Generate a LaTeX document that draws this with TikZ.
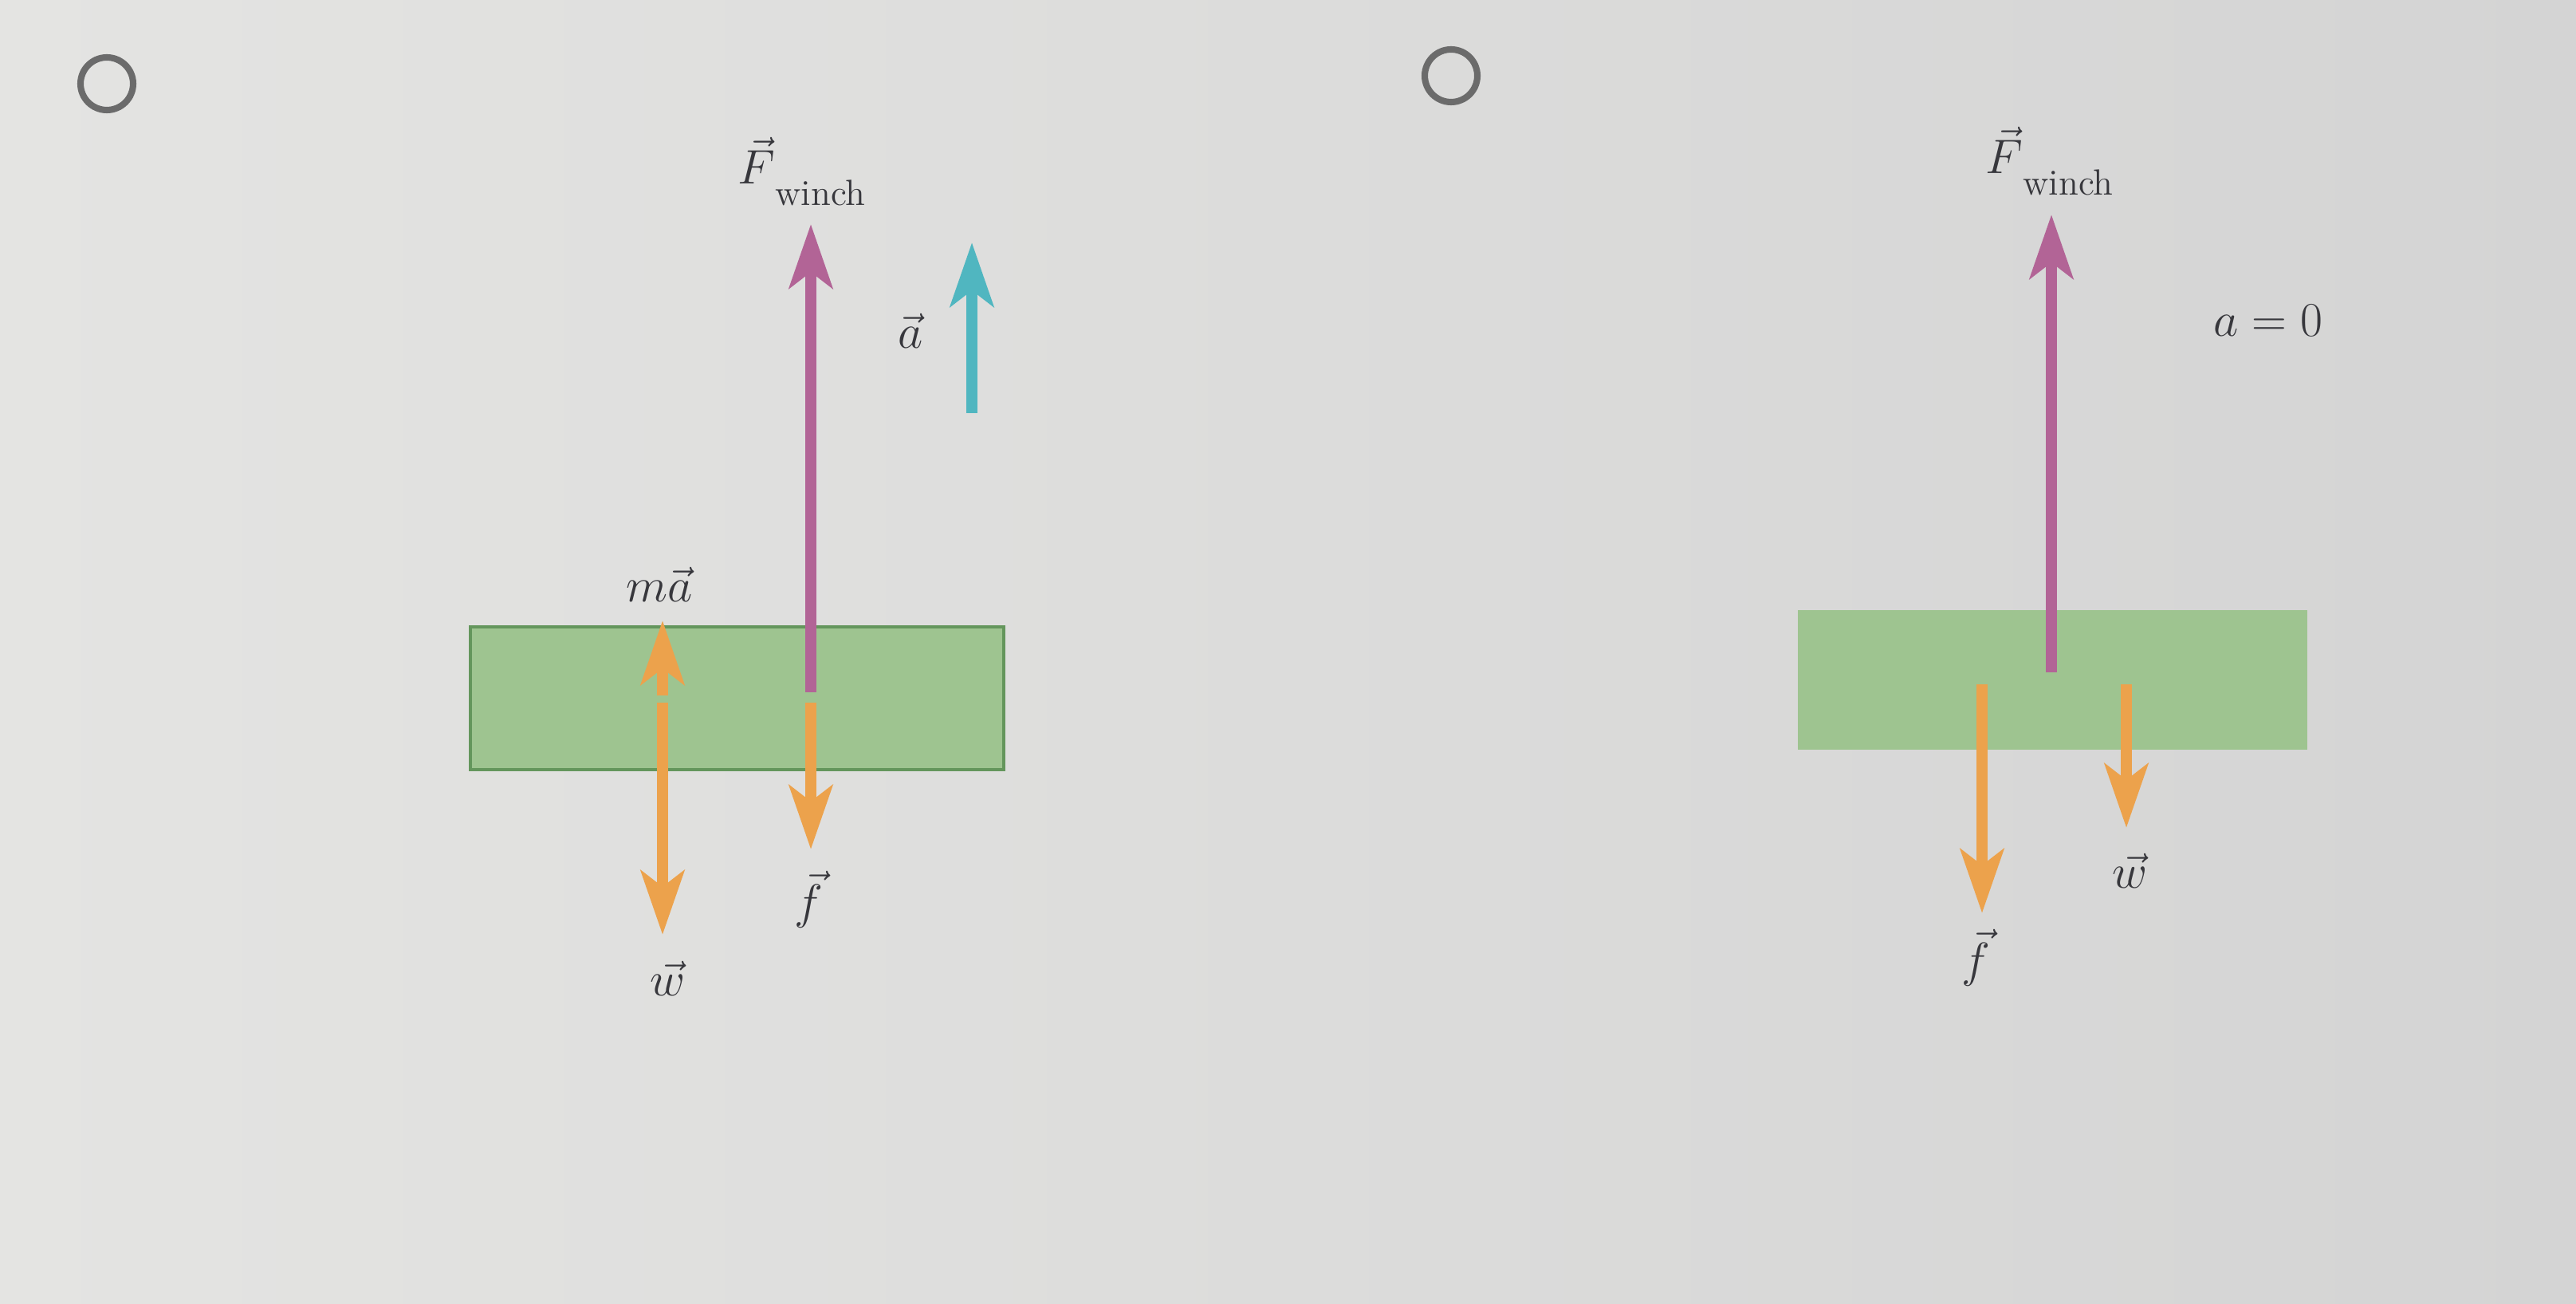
\documentclass[tikz,border=0pt]{standalone}
\usepackage{amsmath, amssymb}
\usetikzlibrary {arrows.meta}

\definecolor{paper}{RGB}{238,238,236}
\definecolor{paperl}{RGB}{228,228,226}
\definecolor{paperr}{RGB}{212,212,212}
\definecolor{winchpink}{RGB}{178,100,150}
\definecolor{forceorange}{RGB}{236,162,76}
\definecolor{accteal}{RGB}{80,182,192}
\definecolor{blockgreen}{RGB}{158,196,144}
\definecolor{blockedge}{RGB}{100,150,92}
\definecolor{ink}{RGB}{55,55,60}

\begin{document}
\begin{tikzpicture}[>=Stealth, x=1cm, y=-1cm,
        force/.style={line width=4.2pt, -{Stealth[length=8mm, width=5.4mm, inset=2mm]}},
        lbl/.style={font=\fontsize{17}{20}\selectfont, text=ink, inner sep=0pt},
        radio/.style={circle, draw=black!58, line width=2.3pt, minimum size=0.66cm, inner sep=0pt},
        block/.style={fill=blockgreen, draw=blockedge, line width=1pt}]
    \useasboundingbox (0,0) rectangle (32.31,16.35);
    \shade[left color=paperl, middle color=paper, right color=paperr] (0,0) rectangle (32.31,16.35);

    % choice buttons
    \node[radio] (opt1) at (1.34, 1.05) {};
    \node[radio] (opt2) at (18.20, 0.95) {};

    % left choice
    \draw[block] (5.90, 7.86) rectangle (12.59, 9.65);
    \coordinate (wL0) at (10.17, 8.68);
    \coordinate (wL1) at (10.17, 2.81);
    \coordinate (fL0) at (10.17, 8.81);
    \coordinate (fL1) at (10.17, 10.65);
    \coordinate (maL0) at (8.31, 8.72);
    \coordinate (maL1) at (8.31, 7.78);
    \coordinate (gL0) at (8.31, 8.81);
    \coordinate (gL1) at (8.31, 11.72);
    \coordinate (aL0) at (12.19, 5.18);
    \coordinate (aL1) at (12.19, 3.04);

    \draw[force, winchpink] (wL0) -- (wL1);
    \draw[force, forceorange] (fL0) -- (fL1);
    \draw[force, forceorange] (maL0) -- (maL1);
    \draw[force, forceorange] (gL0) -- (gL1);
    \draw[force, accteal] (aL0) -- (aL1);

    \node[lbl, anchor=base west] (FL) at (9.25, 2.31)
        {$\vec{F}$\raisebox{-7.5pt}{\fontsize{13}{15}\selectfont winch}};
    \node[lbl, anchor=base] (aL) at (11.42, 4.37) {$\vec{a}$};
    \node[lbl, anchor=base] (maL) at (8.27, 7.55) {$m\vec{a}$};
    \node[lbl] (fL) at (10.14, 11.28) {$\vec{f}$};
    \node[lbl, anchor=base] (gL) at (8.38, 12.48) {$\vec{w}$};

    % right choice
    \draw[block, draw=none] (22.55, 7.65) rectangle (28.94, 9.40);
    \coordinate (wR0) at (25.73, 8.43);
    \coordinate (wR1) at (25.73, 2.69);
    \coordinate (fR0) at (24.86, 8.58);
    \coordinate (fR1) at (24.86, 11.45);
    \coordinate (gR0) at (26.67, 8.58);
    \coordinate (gR1) at (26.67, 10.38);

    \draw[force, winchpink] (wR0) -- (wR1);
    \draw[force, forceorange] (fR0) -- (fR1);
    \draw[force, forceorange] (gR0) -- (gR1);

    \node[lbl, anchor=base west] (FR) at (24.90, 2.18)
        {$\vec{F}$\raisebox{-7.5pt}{\fontsize{13}{15}\selectfont winch}};
    \node[lbl, anchor=base, font=\fontsize{18}{21}\selectfont] (aR) at (28.45, 4.22) {$a=0$};
    \node[lbl] (fR) at (24.78, 12.01) {$\vec{f}$};
    \node[lbl, anchor=base] (gR) at (26.72, 11.14) {$\vec{w}$};
\end{tikzpicture}
\end{document}
